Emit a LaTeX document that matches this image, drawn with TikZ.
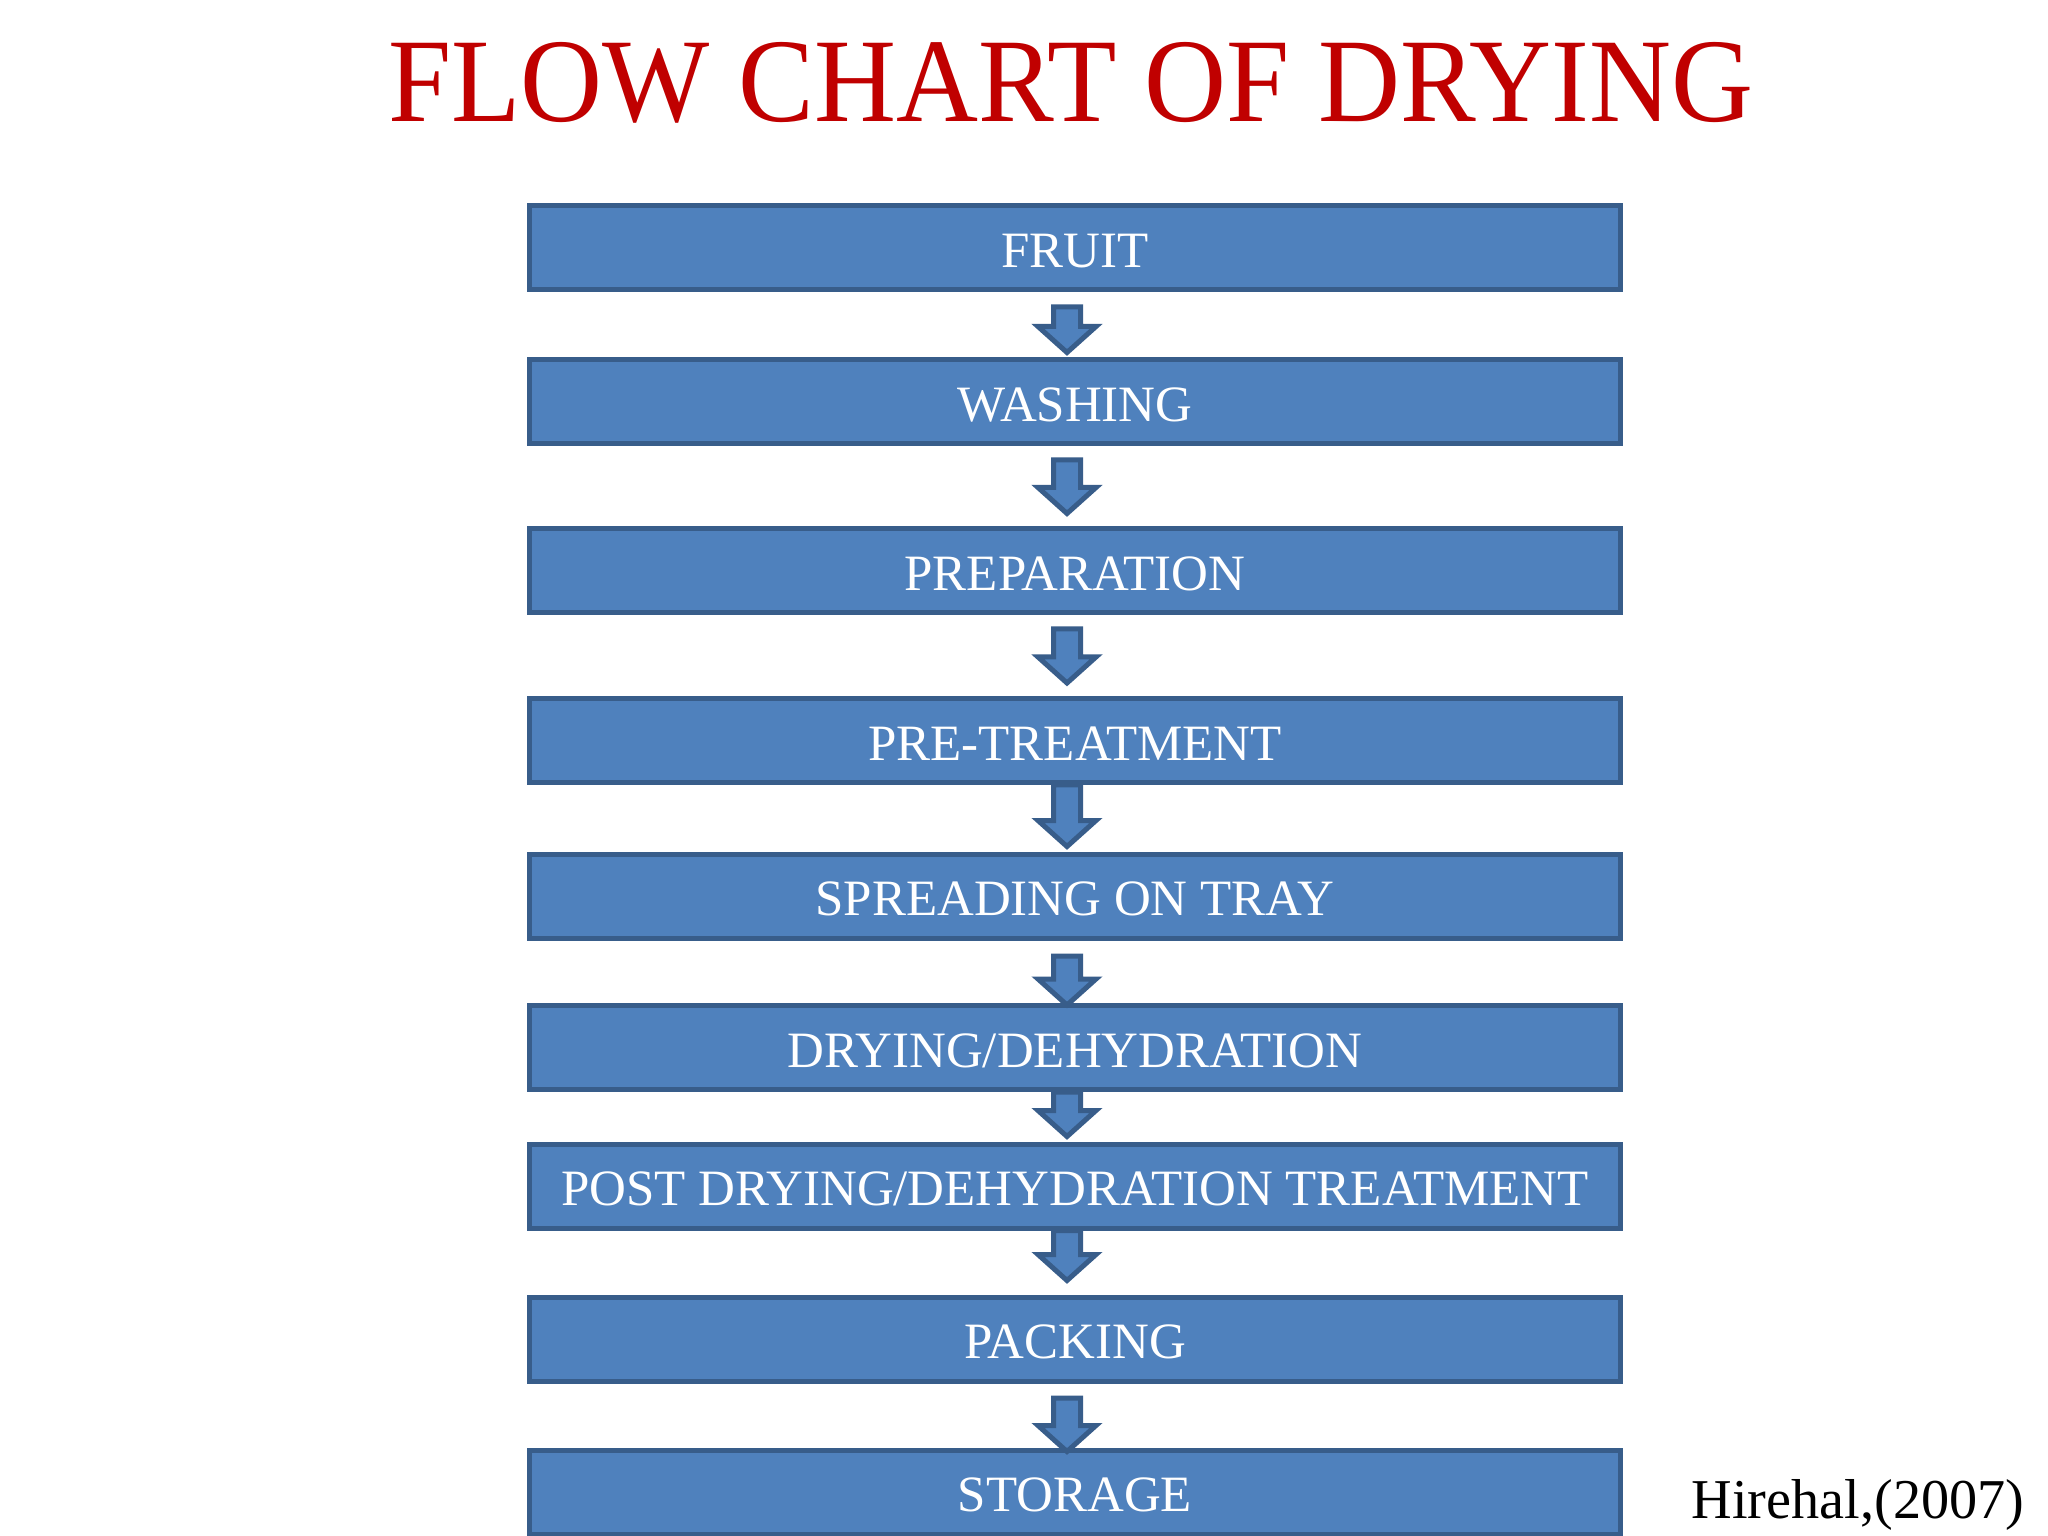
\documentclass[tikz,border=0pt]{standalone}
\usepackage{fontspec}
\setmainfont{Liberation Serif}
\usetikzlibrary{calc}
\definecolor{stageblue}{HTML}{4F81BD}
\definecolor{stageedge}{HTML}{385D8A}
\definecolor{titlered}{HTML}{C00000}
% block arrow from the foot of one stage to the head of the next
\newcommand{\flowarrow}[4]{%
	\coordinate (atop) at ($(#1.south)+(-0.08,-#2)$);
	\coordinate (atip) at ($(#3.north)+(-0.08,#4)$);
	\draw[blockarrow] ($(atop)+(-0.135,0)$) -- ($(atop)+(0.135,0)$) -- ($(atip)+(0.135,0.26)$)
		-- ($(atip)+(0.29,0.26)$) -- (atip) -- ($(atip)+(-0.29,0.26)$) -- ($(atip)+(-0.135,0.26)$) -- cycle;
}
\begin{document}
\begin{tikzpicture}[line join=miter,
	stage/.style={draw=stageedge, fill=stageblue, line width=0.05cm, minimum width=10.91cm, minimum height=0.84cm,
		inner sep=0pt, text=white, text height=0.39cm, text depth=0pt, font=\fontsize{14.5}{16}\selectfont},
	blockarrow/.style={draw=stageedge, fill=stageblue, line width=0.05cm}]
	\path[clip, use as bounding box] (0,0) rectangle (20.48,-15.36);
	\fill[white] (0,0) rectangle (20.48,-15.36);
	% title and source
	\node[anchor=base, inner sep=0pt, text=titlered, font=\fontsize{34}{40}\selectfont] (title) at (10.71,-1.22) {\scalebox{0.95}[1]{FLOW CHART OF DRYING}};
	\node[anchor=base west, inner sep=0pt, font=\fontsize{16}{19}\selectfont] (source) at (16.91,-15.18) {Hirehal,(2007)};
	% stages
	\node[stage] (fruit) at (10.75,-2.48) {FRUIT};
	\node[stage] (washing) at (10.75,-4.02) {WASHING};
	\node[stage] (preparation) at (10.75,-5.71) {PREPARATION};
	\node[stage] (pretreatment) at (10.75,-7.405) {PRE-TREATMENT};
	\node[stage] (spreading) at (10.75,-8.96) {SPREADING ON TRAY};
	\node[stage] (drying) at (10.75,-10.475) {DRYING/DEHYDRATION};
	\node[stage] (postdrying) at (10.75,-11.86) {POST DRYING/DEHYDRATION TREATMENT};
	\node[stage] (packing) at (10.75,-13.39) {PACKING};
	\node[stage] (storage) at (10.75,-14.92) {STORAGE};
	% arrows
	\flowarrow{fruit}{0.145}{washing}{0.05}
	\flowarrow{washing}{0.135}{preparation}{0.13}
	\flowarrow{preparation}{0.135}{pretreatment}{0.13}
	\flowarrow{pretreatment}{0}{spreading}{0.05}
	\flowarrow{spreading}{0.155}{drying}{-0.02}
	\flowarrow{drying}{0}{postdrying}{0.05}
	\flowarrow{postdrying}{0}{packing}{0.14}
	\flowarrow{packing}{0.145}{storage}{-0.04}
\end{tikzpicture}
\end{document}
